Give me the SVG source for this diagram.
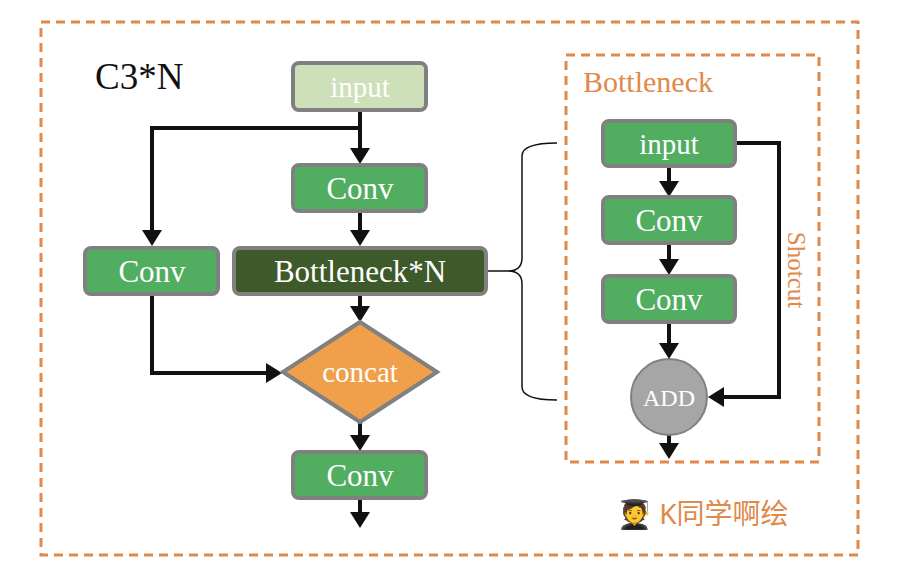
<svg xmlns="http://www.w3.org/2000/svg" width="904" height="580" viewBox="0 0 904 580">
<style>
.n{stroke:#808080;stroke-width:4}
.g{fill:#51ad5f}
.t{font-family:"Liberation Serif",serif;fill:#fff;text-anchor:middle}
.c{stroke:#111;stroke-width:4;fill:none}
.d{fill:none;stroke:#e0894a;stroke-width:3;stroke-dasharray:9,6}
</style>
<defs><marker id="a" markerWidth="5" markerHeight="5" refX="3" refY="2.5" orient="auto" markerUnits="strokeWidth"><path d="M0,0L4,2.5L0,5z" fill="#111"/></marker></defs>
<rect width="904" height="580" fill="#fff"/>
<rect class="d" x="41" y="22" width="817" height="533"/>
<rect class="d" x="566" y="55" width="253" height="407"/>
<text x="95" y="89" font-family="Liberation Serif,serif" font-size="37" fill="#111">C3*N</text>
<text x="583" y="92" font-family="Liberation Serif,serif" font-size="30" fill="#e0894a">Bottleneck</text>
<text transform="translate(788,270) rotate(90)" text-anchor="middle" font-family="Liberation Serif,serif" font-size="25" fill="#e0894a">Shotcut</text>
<text x="617" y="524" font-family="Noto Sans,Noto Sans CJK SC,sans-serif" font-size="28" fill="#e0894a">🧑‍🎓 K同学啊绘</text>
<g id="connectors">
<path class="c" d="M360,110V160" marker-end="url(#a)"/>
<path class="c" d="M360,128H152V242" marker-end="url(#a)"/>
<path class="c" d="M360,211V242" marker-end="url(#a)"/>
<path class="c" d="M360,294V318" marker-end="url(#a)"/>
<path class="c" d="M152,294V373H278" marker-end="url(#a)"/>
<path class="c" d="M360,422V447" marker-end="url(#a)"/>
<path class="c" d="M360,498V524" marker-end="url(#a)"/>
<path class="c" d="M669,166V193" marker-end="url(#a)"/>
<path class="c" d="M669,243V271" marker-end="url(#a)"/>
<path class="c" d="M669,322V355" marker-end="url(#a)"/>
<path class="c" d="M669,435V455" marker-end="url(#a)"/>
<path class="c" d="M735,143H779V397H712" marker-end="url(#a)"/>
<path d="M487,271H508Q522,271 522,258V156Q522,143 557,143M508,271Q522,271 522,284V387Q522,400 557,400" fill="none" stroke="#111" stroke-width="1.5"/>
</g>
<g id="input"><rect class="n" x="293" y="63" width="133" height="47" rx="6" fill="#cde0b9"/><text class="t" x="360" y="97" font-size="29">input</text></g>
<g id="conv1"><rect class="n g" x="293" y="165" width="133" height="46" rx="6"/><text class="t" x="360" y="199" font-size="31">Conv</text></g>
<g id="conv2"><rect class="n g" x="85" y="248" width="133" height="46" rx="6"/><text class="t" x="152" y="282" font-size="31">Conv</text></g>
<g id="bottleneckN"><rect class="n" x="234" y="248" width="252" height="46" rx="6" fill="#3e5a2a"/><text class="t" x="360" y="282" font-size="31">Bottleneck*N</text></g>
<g id="concat"><path class="n" d="M360,322L437,372L360,422L283,372z" fill="#f0a04a"/><text class="t" x="360" y="382" font-size="29">concat</text></g>
<g id="conv3"><rect class="n g" x="293" y="452" width="133" height="46" rx="6"/><text class="t" x="360" y="486" font-size="31">Conv</text></g>
<g id="b_input"><rect class="n g" x="603" y="121" width="132" height="45" rx="6"/><text class="t" x="669" y="154" font-size="29">input</text></g>
<g id="b_conv1"><rect class="n g" x="603" y="197" width="132" height="46" rx="6"/><text class="t" x="669" y="231" font-size="31">Conv</text></g>
<g id="b_conv2"><rect class="n g" x="603" y="276" width="132" height="46" rx="6"/><text class="t" x="669" y="310" font-size="31">Conv</text></g>
<g id="add"><circle cx="669" cy="397" r="38" fill="#a6a6a6" stroke="#808080" stroke-width="2"/><text class="t" x="669" y="406" font-size="24">ADD</text></g>
</svg>
